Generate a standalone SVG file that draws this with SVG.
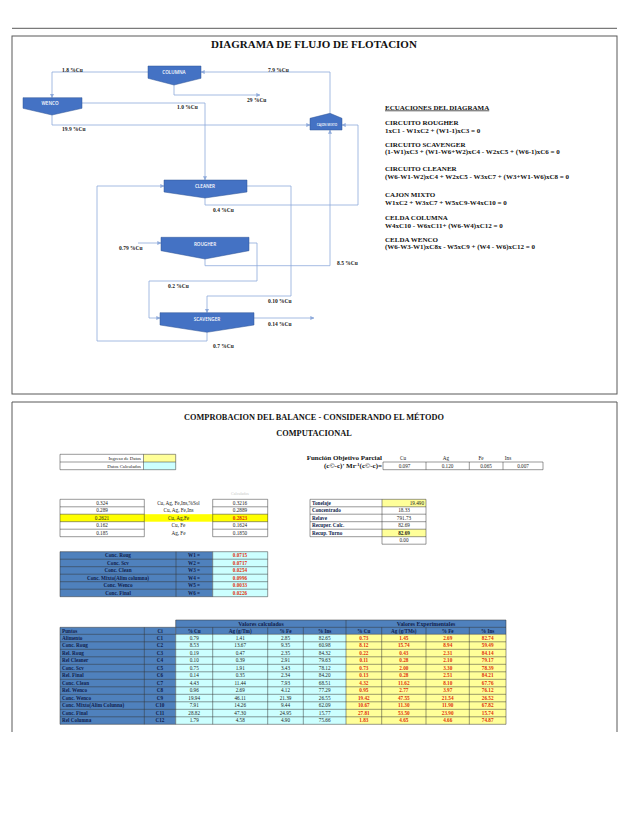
<svg xmlns="http://www.w3.org/2000/svg" width="638" height="826" viewBox="0 0 638 826">
<defs>
<marker id="ah" viewBox="0 0 6 6" refX="5.5" refY="3" markerWidth="4" markerHeight="4" orient="auto" markerUnits="userSpaceOnUse"><path d="M0,0 L6,3 L0,6 z" fill="#8EAADB"/></marker>
<style>
.frame{fill:none;stroke:#595959;stroke-width:1}
.node{fill:#4472C4;stroke:#2F5597;stroke-width:0.5}
.nt{font-family:"Open Sans","Liberation Sans",sans-serif;font-size:4.6px;fill:#fff;text-anchor:middle;font-weight:600}
.con{fill:none;stroke:#8EAADB;stroke-width:0.8}
.pl{font-family:"Liberation Serif",serif;font-size:5.5px;font-weight:bold;fill:#222}
.tt{font-family:"Liberation Serif",serif;font-weight:bold;fill:#111;text-anchor:middle}
.eq{font-family:"Liberation Serif",serif;font-size:7px;font-weight:bold;fill:#111}
.c{font-family:"Liberation Serif",serif;font-size:5.2px;fill:#222;text-anchor:middle}
.cb{font-family:"Liberation Serif",serif;font-size:5.2px;fill:#0F1E4D;font-weight:bold}
.cm{text-anchor:middle}
.cr{font-family:"Liberation Serif",serif;font-size:5.2px;fill:#E0300A;font-weight:bold;text-anchor:middle}
.g{fill:none;stroke:#333;stroke-width:0.5}
.blue{fill:#4F81BD}
.cy{fill:#CCFFFF}
.ye{fill:#FFFF99}
</style>
</defs>
<rect x="0" y="0" width="638" height="826" fill="#fff"/>
<line x1="12" y1="28.3" x2="617" y2="28.3" stroke="#595959" stroke-width="1"/>
<rect class="frame" x="12" y="36" width="605" height="358"/>
<path class="frame" d="M12,732 V402 H617 V732"/>
<text class="tt" x="314" y="48" font-size="11">DIAGRAMA DE FLUJO DE FLOTACION</text>

<g id="connectors">
<path class="con" d="M148,72 H52 V97.7" marker-end="url(#ah)"/>
<path class="con" d="M330,113.3 V72 H201" marker-end="url(#ah)"/>
<path class="con" d="M174,85 V95 H260" marker-end="url(#ah)"/>
<path class="con" d="M82,103 H205 V180" marker-end="url(#ah)"/>
<path class="con" d="M52,115 V125 H310" marker-end="url(#ah)"/>
<path class="con" d="M205,198 V205 H358 V125 H342" marker-end="url(#ah)"/>
<path class="con" d="M205,259 V265.7 H330 V130" marker-end="url(#ah)"/>
<path class="con" d="M138,243 H161" marker-end="url(#ah)"/>
<path class="con" d="M249,243 H257 V281 H149 V318 H160" marker-end="url(#ah)"/>
<path class="con" d="M247,186 H291 V296 H207 V312.7" marker-end="url(#ah)"/>
<path class="con" d="M207,332.3 V341 H97 V186 H164" marker-end="url(#ah)"/>
<path class="con" d="M254,318 H314" marker-end="url(#ah)"/>
</g>

<g id="labels">
<text class="pl" x="62" y="71.5">1.8 %Cu</text>
<text class="pl" x="268" y="71.5">7.9 %Cu</text>
<text class="pl" x="247" y="102">29 %Cu</text>
<text class="pl" x="177" y="109">1.0 %Cu</text>
<text class="pl" x="62" y="131">19.9 %Cu</text>
<text class="pl" x="213" y="212">0.4 %Cu</text>
<text class="pl" x="119" y="250">0.79 %Cu</text>
<text class="pl" x="337" y="265">8.5 %Cu</text>
<text class="pl" x="168" y="288">0.2 %Cu</text>
<text class="pl" x="268" y="303">0.10 %Cu</text>
<text class="pl" x="268" y="326">0.14 %Cu</text>
<text class="pl" x="213" y="348">0.7 %Cu</text>
</g>

<g id="columna"><path class="node" d="M148,66 H201 V78.3 L174,85 L148,78.3 Z"/><text class="nt" x="174" y="74">COLUMNA</text></g>
<g id="wenco"><path class="node" d="M23,97.7 H82 V108.3 L52,115 L23,108.3 Z"/><text class="nt" x="50" y="104.5">WENCO</text></g>
<g id="cajon-mixto"><path class="node" d="M310,118.3 L330,113.3 L342,118.3 V130 H310 Z"/><text class="nt" x="327" y="125.8" style="font-size:3.1px">CAJON MIXTO</text></g>
<g id="cleaner"><path class="node" d="M164,180 H247 V192 L205,198 L164,192 Z"/><text class="nt" x="205" y="187.7">CLEANER</text></g>
<g id="rougher"><path class="node" d="M161,237.3 H249 V250.7 L205,259 L161,250.7 Z"/><text class="nt" x="205" y="245.5">ROUGHER</text></g>
<g id="scavenger"><path class="node" d="M160,312.7 H254 V325 L207,332.3 L160,325 Z"/><text class="nt" x="207" y="320.5">SCAVENGER</text></g>

<g id="ecuaciones">
<text class="eq" x="385" y="109.5" text-decoration="underline">ECUACIONES DEL DIAGRAMA</text>
<text class="eq" x="385" y="124.6">CIRCUITO ROUGHER</text>
<text class="eq" x="385" y="132.5">1xC1 - W1xC2 + (W1-1)xC3 = 0</text>
<text class="eq" x="385" y="146.5">CIRCUITO SCAVENGER</text>
<text class="eq" x="385" y="154">(1-W1)xC3 + (W1-W6+W2)xC4 - W2xC5 + (W6-1)xC6 = 0</text>
<text class="eq" x="385" y="170.5">CIRCUITO CLEANER</text>
<text class="eq" x="385" y="178.5">(W6-W1-W2)xC4 + W2xC5 - W3xC7 + (W3+W1-W6)xC8 = 0</text>
<text class="eq" x="385" y="196.5">CAJON MIXTO</text>
<text class="eq" x="385" y="204.5">W1xC2 + W3xC7 + W5xC9-W4xC10 = 0</text>
<text class="eq" x="385" y="220">CELDA COLUMNA</text>
<text class="eq" x="385" y="228">W4xC10 - W6xC11+ (W6-W4)xC12 = 0</text>
<text class="eq" x="385" y="241.5">CELDA WENCO</text>
<text class="eq" x="385" y="249">(W6-W3-W1)xC8x - W5xC9 + (W4 - W6)xC12 = 0</text>
</g>

<g id="balance-title">
<text class="tt" x="314" y="419.5" font-size="8.3">COMPROBACION DEL BALANCE - CONSIDERANDO EL MÉTODO</text>
<text class="tt" x="314" y="436" font-size="8.3">COMPUTACIONAL</text>
</g>

<g id="legend">
<rect class="ye" x="143.5" y="454.3" width="32.2" height="7.7"/>
<rect class="cy" x="143.5" y="462" width="32.2" height="7.7"/>
<path class="g" d="M60,454.3 H175.7 V469.7 H60 Z M60,462 H175.7 M143.5,454.3 V469.7"/>
<text class="c" x="141" y="460" text-anchor="end" style="text-anchor:end;font-size:4.8px">Ingreso de Datos</text>
<text class="c" x="141" y="467.7" style="text-anchor:end;font-size:4.8px">Datos Calculados</text>
</g>

<g id="funcion-objetivo">
<text class="eq" x="382" y="459.5" text-anchor="end">Función Objetivo Parcial</text>
<text class="eq" x="382" y="467.5" text-anchor="end">(c©-c)' Mr<tspan dy="-2" font-size="4.5px">-1</tspan><tspan dy="2">(c©-c)=</tspan></text>
<text class="c" x="403" y="459.5">Cu</text>
<text class="c" x="446" y="459.5">Ag</text>
<text class="c" x="481" y="459.5">Fe</text>
<text class="c" x="508" y="459.5">Ins</text>
<path class="g" d="M383,462 H543 V469.7 H383 Z M426,462 V469.7 M469.3,462 V469.7 M503,462 V469.7" stroke-width="0.7"/>
<text class="c" x="404.5" y="467.6">0.097</text>
<text class="c" x="447.5" y="467.6">0.120</text>
<text class="c" x="486" y="467.6">0.065</text>
<text class="c" x="523" y="467.6">0.007</text>
</g>

<g id="calculo-w">
<text class="c" x="240" y="495" style="fill:#C8C8C8;font-size:4px">Calculados</text>
<rect x="60" y="514.2" width="208" height="7.5" fill="#FFFF00"/>
<path class="g" d="M60,499.3 H144.3 V536.7 H60 Z M60,506.8 H144.3 M60,514.2 H144.3 M60,521.7 H144.3 M60,529.2 H144.3"/>
<path class="g" d="M212.7,499.3 H267.7 V536.7 H212.7 Z M212.7,506.8 H267.7 M212.7,514.2 H267.7 M212.7,521.7 H267.7 M212.7,529.2 H267.7"/>
<text class="c" x="102" y="504.8">0.324</text>
<text class="c" x="102" y="512.3">0.289</text>
<text class="c" x="102" y="519.7">0.2621</text>
<text class="c" x="102" y="527.2">0.162</text>
<text class="c" x="102" y="534.7">0.185</text>
<text class="c" x="178.5" y="504.8">Cu, Ag, Fe,Ins,%Sol</text>
<text class="c" x="178.5" y="512.3">Cu, Ag, Fe,Ins</text>
<text class="c" x="178.5" y="519.7">Cu, Ag,Fe</text>
<text class="c" x="178.5" y="527.2">Cu, Fe</text>
<text class="c" x="178.5" y="534.7">Ag, Fe</text>
<text class="c" x="240" y="504.8">0.3216</text>
<text class="c" x="240" y="512.3">0.2889</text>
<text class="cr" x="240" y="519.7">0.2823</text>
<text class="c" x="240" y="527.2">0.1624</text>
<text class="c" x="240" y="534.7">0.1850</text>
</g>

<g id="tonelaje">
<rect class="ye" x="382" y="499.3" width="44" height="7.5"/>
<rect class="ye" x="382" y="529.2" width="44" height="7.5"/>
<path class="g" d="M310,499.3 H426 V536.7 H310 Z M310,506.8 H426 M310,514.2 H426 M310,521.7 H426 M310,529.2 H426 M382,499.3 V544.2 H426 V536.7"/>
<text class="cb" x="312" y="504.8">Tonelaje</text>
<text class="cb" x="312" y="512.3">Concentrado</text>
<text class="cb" x="312" y="519.7">Relave</text>
<text class="cb" x="312" y="527.2">Recuper. Calc.</text>
<text class="cb" x="312" y="534.7">Recup. Turno</text>
<text class="c" x="424" y="504.8" style="text-anchor:end">19.490</text>
<text class="c" x="404" y="512.3">18.33</text>
<text class="c" x="404" y="519.7">791.73</text>
<text class="c" x="404" y="527.2">82.69</text>
<text class="c" x="404" y="534.7" font-weight="bold">82.69</text>
<text class="c" x="404" y="542.1">0.00</text>
</g>

<g id="fracciones-w">
<rect class="blue" x="60" y="551.7" width="152.7" height="45"/>
<rect class="cy" x="212.7" y="551.7" width="55" height="45"/>
<path class="g" d="M60,551.7 H267.7 V596.7 H60 Z M60,559.2 H267.7 M60,566.7 H267.7 M60,574.2 H267.7 M60,581.7 H267.7 M60,589.2 H267.7 M176,551.7 V596.7 M212.7,551.7 V596.7"/>
<g class="cb" text-anchor="middle">
<text x="118" y="557.2">Conc. Roug</text>
<text x="118" y="564.7">Conc. Scv</text>
<text x="118" y="572.2">Conc. Clean</text>
<text x="118" y="579.7">Conc. Mixto(Alim columna)</text>
<text x="118" y="587.2">Conc. Wenco</text>
<text x="118" y="594.7">Conc. Final</text>
<text x="194" y="557.2">W1 =</text>
<text x="194" y="564.7">W2 =</text>
<text x="194" y="572.2">W3 =</text>
<text x="194" y="579.7">W4 =</text>
<text x="194" y="587.2">W5 =</text>
<text x="194" y="594.7">W6 =</text>
</g>
<text class="cr" x="240" y="557.2">0.0715</text>
<text class="cr" x="240" y="564.7">0.0717</text>
<text class="cr" x="240" y="572.2">0.0254</text>
<text class="cr" x="240" y="579.7">0.0996</text>
<text class="cr" x="240" y="587.2">0.0033</text>
<text class="cr" x="240" y="594.7">0.0226</text>
</g>

<g id="tabla-valores">
<rect class="blue" x="175.7" y="620" width="330.3" height="14.3"/>
<rect class="blue" x="60" y="627.3" width="115.7" height="97"/>
<rect class="cy" x="175.7" y="634.3" width="170.3" height="90"/>
<rect class="ye" x="346" y="634.3" width="160" height="90"/>
<path class="g" d="M175.7,620 H506 M175.7,620 V627.3 M346,620 V627.3 M506,620 V627.3 M60,627.3 H506 M60,634.3 H506 M60,641.8 H506 M60,649.3 H506 M60,656.8 H506 M60,664.3 H506 M60,671.8 H506 M60,679.3 H506 M60,686.8 H506 M60,694.3 H506 M60,701.8 H506 M60,709.3 H506 M60,716.8 H506 M60,724.3 H506 M60,627.3 V724.3 M144.3,627.3 V724.3 M175.7,627.3 V724.3 M212.7,627.3 V724.3 M267.7,627.3 V724.3 M303.3,627.3 V724.3 M346,627.3 V724.3 M381.7,627.3 V724.3 M426,627.3 V724.3 M469.3,627.3 V724.3 M506,627.3 V724.3"/>
<g class="cb" text-anchor="middle" style="font-size:5.8px">
<text x="261" y="625.8">Valores calculados</text>
<text x="426" y="625.8">Valores Experimentales</text>
</g>
<g class="cb">
<text x="62" y="632.8">Puntos</text>
<text x="62" y="639.9">Alimento</text>
<text x="62" y="647.4">Conc. Roug</text>
<text x="62" y="654.9">Rel. Roug</text>
<text x="62" y="662.4">Rel Cleaner</text>
<text x="62" y="669.9">Conc. Scv</text>
<text x="62" y="677.4">Rel. Final</text>
<text x="62" y="684.9">Conc. Clean</text>
<text x="62" y="692.4">Rel. Wenco</text>
<text x="62" y="699.9">Conc. Wenco</text>
<text x="62" y="707.4">Conc. Mixto(Alim Colunna)</text>
<text x="62" y="714.9">Conc. Final</text>
<text x="62" y="722.4">Rel Columna</text>
</g>
<g class="cb" text-anchor="middle">
<text x="160" y="632.8">Ci</text>
<text x="194.2" y="632.8">% Cu</text>
<text x="240.2" y="632.8">Ag (g/Tm)</text>
<text x="285.5" y="632.8">% Fe</text>
<text x="324.7" y="632.8">% Ins</text>
<text x="363.8" y="632.8">% Cu</text>
<text x="403.8" y="632.8">Ag (g/TMs)</text>
<text x="447.7" y="632.8">% Fe</text>
<text x="487.7" y="632.8">% Ins</text>
<text x="160" y="639.9">C1</text>
<text x="160" y="647.4">C2</text>
<text x="160" y="654.9">C3</text>
<text x="160" y="662.4">C4</text>
<text x="160" y="669.9">C5</text>
<text x="160" y="677.4">C6</text>
<text x="160" y="684.9">C7</text>
<text x="160" y="692.4">C8</text>
<text x="160" y="699.9">C9</text>
<text x="160" y="707.4">C10</text>
<text x="160" y="714.9">C11</text>
<text x="160" y="722.4">C12</text>
</g>
<g class="c">
<text x="194.2" y="639.9">0.79</text><text x="240.2" y="639.9">1.41</text><text x="285.5" y="639.9">2.85</text><text x="324.7" y="639.9">82.65</text>
<text x="194.2" y="647.4">8.53</text><text x="240.2" y="647.4">13.67</text><text x="285.5" y="647.4">9.35</text><text x="324.7" y="647.4">60.98</text>
<text x="194.2" y="654.9">0.19</text><text x="240.2" y="654.9">0.47</text><text x="285.5" y="654.9">2.35</text><text x="324.7" y="654.9">84.32</text>
<text x="194.2" y="662.4">0.10</text><text x="240.2" y="662.4">0.39</text><text x="285.5" y="662.4">2.91</text><text x="324.7" y="662.4">79.63</text>
<text x="194.2" y="669.9">0.75</text><text x="240.2" y="669.9">1.91</text><text x="285.5" y="669.9">3.43</text><text x="324.7" y="669.9">78.12</text>
<text x="194.2" y="677.4">0.14</text><text x="240.2" y="677.4">0.35</text><text x="285.5" y="677.4">2.34</text><text x="324.7" y="677.4">84.20</text>
<text x="194.2" y="684.9">4.43</text><text x="240.2" y="684.9">11.44</text><text x="285.5" y="684.9">7.93</text><text x="324.7" y="684.9">68.51</text>
<text x="194.2" y="692.4">0.96</text><text x="240.2" y="692.4">2.69</text><text x="285.5" y="692.4">4.12</text><text x="324.7" y="692.4">77.29</text>
<text x="194.2" y="699.9">19.94</text><text x="240.2" y="699.9">46.11</text><text x="285.5" y="699.9">21.39</text><text x="324.7" y="699.9">26.55</text>
<text x="194.2" y="707.4">7.91</text><text x="240.2" y="707.4">14.26</text><text x="285.5" y="707.4">9.44</text><text x="324.7" y="707.4">62.09</text>
<text x="194.2" y="714.9">28.82</text><text x="240.2" y="714.9">47.30</text><text x="285.5" y="714.9">24.95</text><text x="324.7" y="714.9">15.77</text>
<text x="194.2" y="722.4">1.79</text><text x="240.2" y="722.4">4.58</text><text x="285.5" y="722.4">4.90</text><text x="324.7" y="722.4">75.66</text>
</g>
<g class="cr">
<text x="363.8" y="639.9">0.73</text><text x="403.8" y="639.9">1.45</text><text x="447.7" y="639.9">2.69</text><text x="487.7" y="639.9">82.74</text>
<text x="363.8" y="647.4">8.12</text><text x="403.8" y="647.4">15.74</text><text x="447.7" y="647.4">8.94</text><text x="487.7" y="647.4">59.49</text>
<text x="363.8" y="654.9">0.22</text><text x="403.8" y="654.9">0.43</text><text x="447.7" y="654.9">2.31</text><text x="487.7" y="654.9">84.14</text>
<text x="363.8" y="662.4">0.11</text><text x="403.8" y="662.4">0.28</text><text x="447.7" y="662.4">2.10</text><text x="487.7" y="662.4">79.17</text>
<text x="363.8" y="669.9">0.73</text><text x="403.8" y="669.9">2.00</text><text x="447.7" y="669.9">3.30</text><text x="487.7" y="669.9">78.39</text>
<text x="363.8" y="677.4">0.13</text><text x="403.8" y="677.4">0.28</text><text x="447.7" y="677.4">2.51</text><text x="487.7" y="677.4">84.21</text>
<text x="363.8" y="684.9">4.32</text><text x="403.8" y="684.9">11.62</text><text x="447.7" y="684.9">8.10</text><text x="487.7" y="684.9">67.76</text>
<text x="363.8" y="692.4">0.95</text><text x="403.8" y="692.4">2.77</text><text x="447.7" y="692.4">3.97</text><text x="487.7" y="692.4">76.12</text>
<text x="363.8" y="699.9">19.42</text><text x="403.8" y="699.9">47.55</text><text x="447.7" y="699.9">21.54</text><text x="487.7" y="699.9">26.52</text>
<text x="363.8" y="707.4">10.67</text><text x="403.8" y="707.4">11.30</text><text x="447.7" y="707.4">11.90</text><text x="487.7" y="707.4">67.82</text>
<text x="363.8" y="714.9">27.81</text><text x="403.8" y="714.9">53.50</text><text x="447.7" y="714.9">23.90</text><text x="487.7" y="714.9">15.74</text>
<text x="363.8" y="722.4">1.83</text><text x="403.8" y="722.4">4.65</text><text x="447.7" y="722.4">4.66</text><text x="487.7" y="722.4">74.87</text>
</g>
</g>
</svg>
